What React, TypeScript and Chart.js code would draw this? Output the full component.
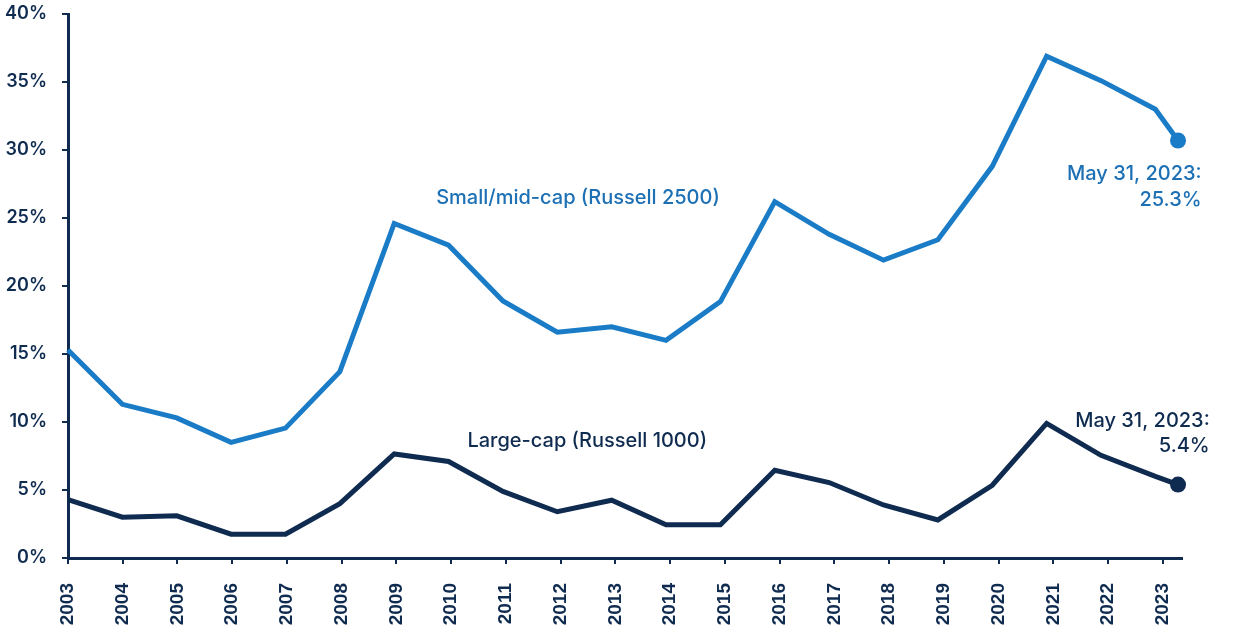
import React, { useEffect, useRef } from 'react';
import { Chart, registerables } from 'chart.js';

Chart.register(...registerables);

// observation dates (year start), last one is May 31, 2023
const dates = [
  2003, 2004, 2005, 2006, 2007, 2008, 2009, 2010, 2011, 2012, 2013,
  2014, 2015, 2016, 2017, 2018, 2019, 2020, 2021, 2022, 2023, 2023 + 5 / 12,
];
const smallMidCap = [
  15.3, 11.3, 10.3, 8.5, 9.55, 13.7, 24.6, 23.0, 18.9, 16.6, 17.0,
  16.0, 18.85, 26.2, 23.8, 21.9, 23.4, 28.8, 36.9, 35.1, 33.0, 30.7,
];
const largeCap = [
  4.3, 3.0, 3.1, 1.75, 1.75, 4.0, 7.65, 7.1, 4.9, 3.4, 4.25,
  2.45, 2.45, 6.45, 5.55, 3.9, 2.8, 5.35, 9.9, 7.55, 6.0, 5.4,
];
const smallLabel = 'Small/mid-cap (Russell 2500)';
const largeLabel = 'Large-cap (Russell 1000)';
const smallEnd = ['May 31, 2023:', '25.3%'];
const largeEnd = ['May 31, 2023:', '5.4%'];

const NAVY = '#0f2b50';
const BLUE = '#1a7bc6';
const BLUE_TEXT = '#1d70b4';

const toPoints = (vals: number[]) => vals.map((v, i) => ({ x: dates[i], y: v }));

// text labels placed in data coordinates
const labelsPlugin = {
  id: 'seriesLabels',
  afterDatasetsDraw(chart: any) {
    const { ctx } = chart;
    const xs = chart.scales.xd;
    const ys = chart.scales.y;
    ctx.save();
    ctx.font = '500 20px Inter, "Open Sans", sans-serif';
    ctx.textBaseline = 'middle';

    ctx.fillStyle = BLUE_TEXT;
    ctx.textAlign = 'center';
    ctx.fillText(smallLabel, xs.getPixelForValue(2012.38), ys.getPixelForValue(26.45));
    ctx.textAlign = 'right';
    ctx.fillText(smallEnd[0], xs.getPixelForValue(2023.85), ys.getPixelForValue(28.2));
    ctx.fillText(smallEnd[1], xs.getPixelForValue(2023.85), ys.getPixelForValue(26.3));

    ctx.fillStyle = NAVY;
    ctx.textAlign = 'center';
    ctx.fillText(largeLabel, xs.getPixelForValue(2012.55), ys.getPixelForValue(8.6));
    ctx.textAlign = 'right';
    ctx.fillText(largeEnd[0], xs.getPixelForValue(2024.0), ys.getPixelForValue(10.1));
    ctx.fillText(largeEnd[1], xs.getPixelForValue(2024.0), ys.getPixelForValue(8.25));
    ctx.restore();
  },
};

const App: React.FC = () => {
  const canvasRef = useRef<HTMLCanvasElement>(null);

  useEffect(() => {
    if (!canvasRef.current) return;
    const last = dates.length - 1;
    const pointR = (c: any) => (c.dataIndex === last ? 8 : 0);

    const chart = new Chart(canvasRef.current, {
      type: 'line',
      data: {
        datasets: [
          {
            label: smallLabel,
            data: toPoints(smallMidCap),
            xAxisID: 'xd',
            borderColor: BLUE,
            backgroundColor: BLUE,
            borderWidth: 5,
            pointRadius: pointR,
            pointBorderWidth: 0,
            tension: 0,
            clip: false,
          },
          {
            label: largeLabel,
            data: toPoints(largeCap),
            xAxisID: 'xd',
            borderColor: NAVY,
            backgroundColor: NAVY,
            borderWidth: 5,
            pointRadius: pointR,
            pointBorderWidth: 0,
            tension: 0,
            clip: false,
          },
        ],
      },
      options: {
        responsive: true,
        maintainAspectRatio: false,
        animation: false,
        layout: { padding: { top: 14, right: 56, left: 0, bottom: 0 } },
        plugins: {
          legend: { display: false },
          tooltip: { enabled: false },
        },
        scales: {
          xd: {
            type: 'linear',
            display: false,
            min: 2003,
            max: 2023.49,
          },
          x: {
            type: 'linear',
            position: 'bottom',
            min: 2003,
            max: 2023.35,
            afterFit: (s: any) => {
              s.height = 68;
            },
            border: { display: true, color: NAVY, width: 3 },
            grid: { drawOnChartArea: false, drawTicks: true, tickLength: 6, color: NAVY, lineWidth: 2 },
            ticks: {
              stepSize: 1,
              includeBounds: false,
              autoSkip: false,
              minRotation: 90,
              maxRotation: 90,
              padding: 19,
              color: NAVY,
              font: { family: '"Liberation Sans", Arial, sans-serif', size: 19, weight: 'bold' },
              callback: (v: any) => String(v),
            },
          },
          y: {
            min: 0,
            max: 40,
            afterFit: (s: any) => {
              s.width = 68;
              s.paddingTop = 0;
              s.paddingBottom = 0;
            },
            border: { display: true, color: NAVY, width: 3 },
            grid: { drawOnChartArea: false, drawTicks: true, tickLength: 6, color: NAVY, lineWidth: 2 },
            ticks: {
              stepSize: 5,
              padding: 15,
              color: NAVY,
              font: { family: 'Inter, "Open Sans", sans-serif', size: 18, weight: 600 },
              callback: (v: any) => v + '%',
            },
          },
        },
      },
      plugins: [labelsPlugin],
    });

    return () => {
      chart.destroy();
    };
  }, []);

  return (
    <div style={{ position: 'fixed', left: 0, top: 0, width: 1238, height: 626, background: '#fff' }}>
      <canvas ref={canvasRef}></canvas>
    </div>
  );
};

export default App;
